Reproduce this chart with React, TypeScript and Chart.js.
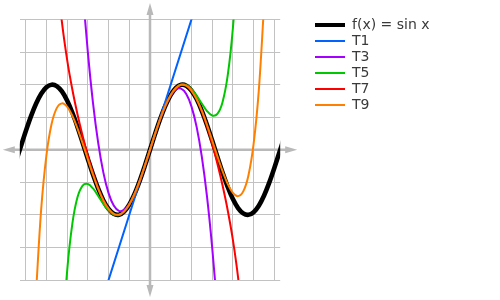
import React, { useEffect, useRef } from "react";
import { Chart, registerables } from "chart.js";

Chart.register(...registerables);

// ---- data ----
const seriesLabels = ["f(x) = sin x", "T1", "T3", "T5", "T7", "T9"];
const seriesColors = ["#000000", "#0062ff", "#a400ff", "#00c800", "#ff0000", "#ff8000"];

const xs = [
  -6.5, -6.25, -6, -5.75, -5.5, -5.25, -5, -4.75, -4.5, -4.25, -4, -3.75, -3.5, -3.25, -3, -2.75, -2.5, -2.25, -2,
  -1.75, -1.5, -1.25, -1, -0.75, -0.5, -0.25, 0, 0.25, 0.5, 0.75, 1, 1.25, 1.5, 1.75, 2, 2.25, 2.5, 2.75, 3, 3.25,
  3.5, 3.75, 4, 4.25, 4.5, 4.75, 5, 5.25, 5.5, 5.75, 6, 6.25, 6.5,
];

const sinY = [
  -0.2151, 0.0332, 0.2794, 0.5083, 0.7055, 0.8589, 0.9589, 0.9993, 0.9775, 0.895, 0.7568, 0.5716, 0.3508, 0.1082,
  -0.1411, -0.3817, -0.5985, -0.7781, -0.9093, -0.984, -0.9975, -0.949, -0.8415, -0.6816, -0.4794, -0.2474, 0,
  0.2474, 0.4794, 0.6816, 0.8415, 0.949, 0.9975, 0.984, 0.9093, 0.7781, 0.5985, 0.3817, 0.1411, -0.1082, -0.3508,
  -0.5716, -0.7568, -0.895, -0.9775, -0.9993, -0.9589, -0.8589, -0.7055, -0.5083, -0.2794, -0.0332, 0.2151,
];

const t1X = [-2.5, 2.5];
const t1Y = [-2.5, 2.5];

const t3Y = [
  null, null, null, null, null, null, null, null, null, null, null, null,
  3.6458, 2.4714, 1.5, 0.7161, 0.1042, -0.3516, -0.6667, -0.8568, -0.9375, -0.9245, -0.8333, -0.6797, -0.4792, -0.2474,
  0,
  0.2474, 0.4792, 0.6797, 0.8333, 0.9245, 0.9375, 0.8568, 0.6667, 0.3516, -0.1042, -0.7161, -1.5, -2.4714, -3.6458,
  null, null, null, null, null, null, null, null, null, null, null, null,
];

const t5Y = [
  null, null, null, null, null, null, null, null, null,
  -3.0105, -1.8667, -1.1407, -0.731, -0.5502, -0.525, -0.5945, -0.7096, -0.8322, -0.9333, -0.9936, -1.0008, -0.9499,
  -0.8417, -0.6817, -0.4794, -0.2474,
  0,
  0.2474, 0.4794, 0.6817, 0.8417, 0.9499, 1.0008, 0.9936, 0.9333, 0.8322, 0.7096, 0.5945, 0.525, 0.5502, 0.731,
  1.1407, 1.8667, 3.0105,
  null, null, null, null, null, null, null, null, null,
];

const t7Y = [
  null, null, null, null, null, null, null, null,
  2.7243, 1.9588, 1.3841, 0.9284, 0.5456, 0.2097, -0.0911, -0.3585, -0.5885, -0.7743, -0.9079, -0.9836, -0.9974,
  -0.949, -0.8415, -0.6816, -0.4794, -0.2474,
  0,
  0.2474, 0.4794, 0.6816, 0.8415, 0.949, 0.9974, 0.9836, 0.9079, 0.7743, 0.5885, 0.3585, 0.0911, -0.2097, -0.5456,
  -0.9284, -1.3841, -1.9588, -2.7243,
  null, null, null, null, null, null, null, null,
];

const t9Y = [
  null, null, null, null,
  -2.1953, -0.9076, -0.0897, 0.3942, 0.6391, 0.7122, 0.6617, 0.5243, 0.3284, 0.0982, -0.1453, -0.3833, -0.599,
  -0.7783, -0.9093, -0.984, -0.9975, -0.949, -0.8415, -0.6816, -0.4794, -0.2474,
  0,
  0.2474, 0.4794, 0.6816, 0.8415, 0.949, 0.9975, 0.984, 0.9093, 0.7783, 0.599, 0.3833, 0.1453, -0.0982, -0.3284,
  -0.5243, -0.6617, -0.7122, -0.6391, -0.3942, 0.0897, 0.9076, 2.1953,
  null, null, null, null,
];

const xTicks = [-6, -5, -4, -3, -2, -1, 0, 1, 2, 3, 4, 5, 6];
const yTicks = [-2, -1.5, -1, -0.5, 0, 0.5, 1, 1.5, 2];
const xMin = -6.2832;
const xMax = 6.2832;
const yMin = -2;
const yMax = 2;

// ---- style ----
const GRID_COLOR = "#c2c2c2";
const AXIS_COLOR = "#b9b9b9";
const TEXT_COLOR = "#3a3a3a";
const FONT_FAMILY = '"DejaVu Sans", Verdana, sans-serif';
const FONT_SIZE = 14;
const LEGEND_LEFT = 315;
const LEGEND_TOP = 25;
const LEGEND_ROW = 16;
const LEGEND_LINE = 30;

const axesPlugin = {
  id: "axesArrows",
  beforeDatasetsDraw(chart: any) {
    const { ctx, chartArea: a, scales } = chart;
    const x0 = scales.x.getPixelForValue(0);
    const y0 = scales.y.getPixelForValue(0);
    const l = a.left - 17;
    const r = a.right + 17;
    const t = a.top - 16.5;
    const b = a.bottom + 17;
    const len = 12;
    const hw = 3.5;
    ctx.save();
    ctx.strokeStyle = AXIS_COLOR;
    ctx.fillStyle = AXIS_COLOR;
    ctx.lineWidth = 2.5;
    ctx.beginPath();
    ctx.moveTo(l + len - 1, y0);
    ctx.lineTo(r - len + 1, y0);
    ctx.moveTo(x0, t + len - 1);
    ctx.lineTo(x0, b - len + 1);
    ctx.stroke();
    const tri = (p: number[][]) => {
      ctx.beginPath();
      ctx.moveTo(p[0][0], p[0][1]);
      ctx.lineTo(p[1][0], p[1][1]);
      ctx.lineTo(p[2][0], p[2][1]);
      ctx.closePath();
      ctx.fill();
    };
    tri([[l, y0], [l + len, y0 - hw], [l + len, y0 + hw]]);
    tri([[r, y0], [r - len, y0 - hw], [r - len, y0 + hw]]);
    tri([[x0, t], [x0 - hw, t + len], [x0 + hw, t + len]]);
    tri([[x0, b], [x0 - hw, b - len], [x0 + hw, b - len]]);
    ctx.restore();
  },
};

const sideLegendPlugin = {
  id: "sideLegend",
  afterDraw(chart: any) {
    const { ctx } = chart;
    ctx.save();
    ctx.font = `${FONT_SIZE}px ${FONT_FAMILY}`;
    ctx.textBaseline = "middle";
    ctx.textAlign = "left";
    chart.data.datasets.forEach((ds: any, i: number) => {
      const y = LEGEND_TOP + i * LEGEND_ROW;
      ctx.strokeStyle = ds.borderColor;
      ctx.lineWidth = Math.min(ds.borderWidth, 4);
      ctx.lineCap = "butt";
      ctx.beginPath();
      ctx.moveTo(LEGEND_LEFT, y);
      ctx.lineTo(LEGEND_LEFT + LEGEND_LINE, y);
      ctx.stroke();
      ctx.fillStyle = TEXT_COLOR;
      ctx.fillText(ds.label, LEGEND_LEFT + LEGEND_LINE + FONT_SIZE / 2, y + 0.5);
    });
    ctx.restore();
  },
};

function toPoints(x: number[], y: (number | null)[]) {
  return x.map((v, i) => ({ x: v, y: y[i] }));
}

export default function App() {
  const ref = useRef<HTMLCanvasElement>(null);

  useEffect(() => {
    if (!ref.current) return;
    const areaLeft = 19.8;
    const areaRight = 280.2;
    const areaTop = 19.5;
    const areaBottom = 280;

    const yData = [sinY, null, t3Y, t5Y, t7Y, t9Y];
    const widths = [4.6, 2, 2, 2, 2, 2];
    const datasets = seriesLabels.map((label, i) => ({
      label,
      data: i === 1 ? toPoints(t1X, t1Y) : toPoints(xs, yData[i] as (number | null)[]),
      borderColor: seriesColors[i],
      backgroundColor: seriesColors[i],
      borderWidth: widths[i],
      pointRadius: 0,
      pointHoverRadius: 0,
      fill: false,
      spanGaps: false,
      clip: 0,
      order: seriesLabels.length - i,
      xAxisID: "x",
      yAxisID: "y",
    }));

    const chart = new Chart(ref.current, {
      type: "line",
      data: { datasets } as any,
      plugins: [axesPlugin, sideLegendPlugin],
      options: {
        animation: false,
        responsive: false,
        devicePixelRatio: 1,
        events: [],
        layout: { padding: { left: 0, top: areaTop, right: 500 - areaRight, bottom: 0 } },
        elements: {
          point: { radius: 0 },
          line: { tension: 0.35, capBezierPoints: false, borderCapStyle: "round", borderJoinStyle: "round" },
        },
        scales: {
          x: {
            type: "linear",
            position: "bottom",
            min: xMin,
            max: xMax,
            afterBuildTicks: (s: any) => {
              s.ticks = xTicks.map((v) => ({ value: v }));
            },
            ticks: { display: false },
            grid: { color: GRID_COLOR, lineWidth: 1, drawTicks: false },
            border: { display: false },
            afterFit: (s: any) => {
              s.height = 300 - areaBottom;
            },
          },
          y: {
            type: "linear",
            position: "left",
            min: yMin,
            max: yMax,
            afterBuildTicks: (s: any) => {
              s.ticks = yTicks.map((v) => ({ value: v }));
            },
            ticks: { display: false },
            grid: { color: GRID_COLOR, lineWidth: 1, drawTicks: false },
            border: { display: false },
            afterFit: (s: any) => {
              s.width = areaLeft;
            },
          },
        },
        plugins: {
          legend: { display: false },
          tooltip: { enabled: false },
        },
      } as any,
    });
    return () => chart.destroy();
  }, []);

  return (
    <div style={{ position: "absolute", left: 0, top: 0, width: 500, height: 300, background: "#fff" }}>
      <canvas ref={ref} width={500} height={300} style={{ display: "block" }} />
    </div>
  );
}
